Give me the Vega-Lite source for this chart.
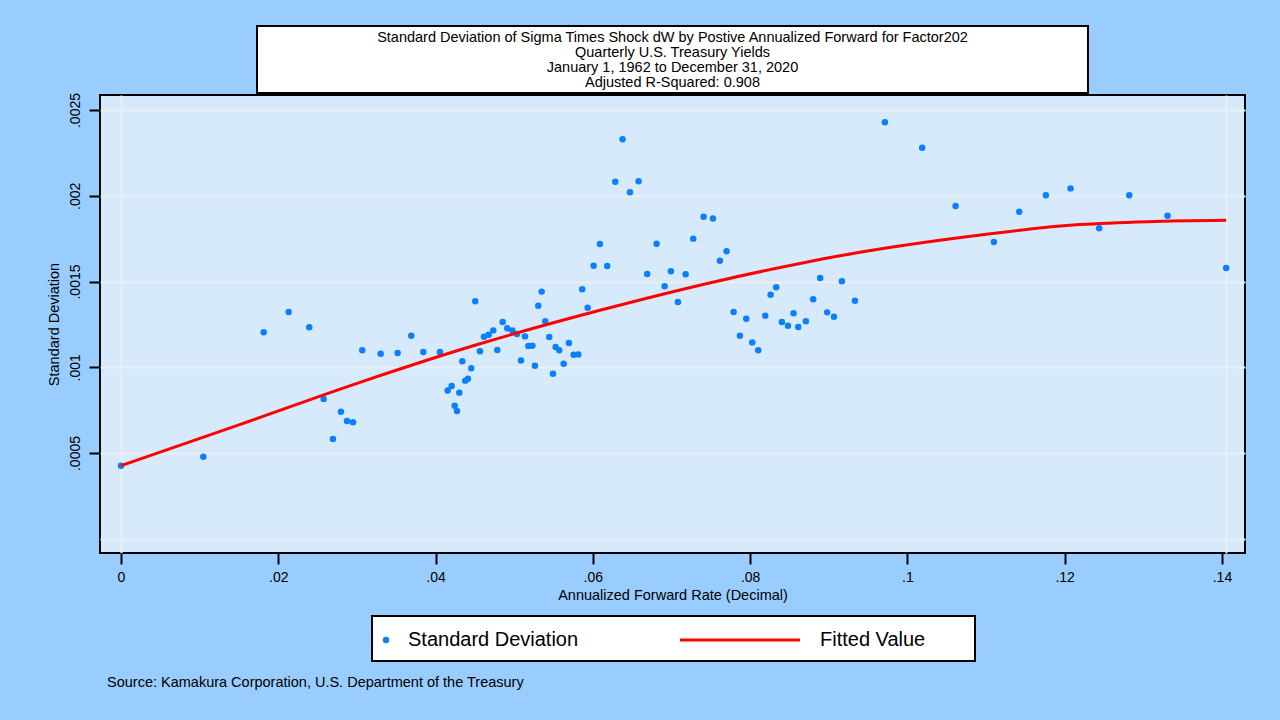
{
  "$schema": "https://vega.github.io/schema/vega-lite/v6.json",
  "background": "#99CCFF",
  "autosize": {"type": "none"},
  "padding": {"left": 100, "top": 26, "right": 1180, "bottom": 694},
  "config": {
    "font": "Liberation Sans",
    "view": {"stroke": null}
  },
  "datasets": {
    "titleLines": [
      {"line": 1, "text": "Standard Deviation of Sigma Times Shock dW by Postive Annualized Forward for Factor202"},
      {"line": 2, "text": "Quarterly U.S. Treasury Yields"},
      {"line": 3, "text": "January 1, 1962 to December 31, 2020"},
      {"line": 4, "text": "Adjusted R-Squared: 0.908"}
    ],
    "sd": [
      {"rate": 0, "sd": 0.000426}, {"rate": 0.01047, "sd": 0.000478}, {"rate": 0.01814, "sd": 0.001204},
      {"rate": 0.02132, "sd": 0.001322}, {"rate": 0.02394, "sd": 0.001233}, {"rate": 0.02577, "sd": 0.000815},
      {"rate": 0.02695, "sd": 0.000582}, {"rate": 0.02797, "sd": 0.000741}, {"rate": 0.02874, "sd": 0.000687},
      {"rate": 0.0295, "sd": 0.000679}, {"rate": 0.03068, "sd": 0.001099}, {"rate": 0.03302, "sd": 0.001079},
      {"rate": 0.03518, "sd": 0.001083}, {"rate": 0.03691, "sd": 0.001184}, {"rate": 0.03844, "sd": 0.001089},
      {"rate": 0.04056, "sd": 0.001089}, {"rate": 0.04154, "sd": 0.000865}, {"rate": 0.04205, "sd": 0.000891},
      {"rate": 0.04243, "sd": 0.000776}, {"rate": 0.04272, "sd": 0.000745}, {"rate": 0.04302, "sd": 0.000852},
      {"rate": 0.0434, "sd": 0.001035}, {"rate": 0.04378, "sd": 0.000922}, {"rate": 0.04412, "sd": 0.000933},
      {"rate": 0.04454, "sd": 0.000994}, {"rate": 0.04505, "sd": 0.001385}, {"rate": 0.04565, "sd": 0.001093},
      {"rate": 0.04616, "sd": 0.001178}, {"rate": 0.04675, "sd": 0.00119}, {"rate": 0.04734, "sd": 0.001215},
      {"rate": 0.04785, "sd": 0.0011}, {"rate": 0.04853, "sd": 0.001264}, {"rate": 0.04912, "sd": 0.001227},
      {"rate": 0.04976, "sd": 0.001215}, {"rate": 0.05036, "sd": 0.001194}, {"rate": 0.05086, "sd": 0.00104},
      {"rate": 0.05137, "sd": 0.00118}, {"rate": 0.0518, "sd": 0.001124}, {"rate": 0.05231, "sd": 0.001126},
      {"rate": 0.05264, "sd": 0.001009}, {"rate": 0.05306, "sd": 0.001359}, {"rate": 0.05349, "sd": 0.001441},
      {"rate": 0.05395, "sd": 0.001268}, {"rate": 0.05446, "sd": 0.001176}, {"rate": 0.05493, "sd": 0.000962},
      {"rate": 0.05527, "sd": 0.001118}, {"rate": 0.05573, "sd": 0.001099}, {"rate": 0.05629, "sd": 0.001021},
      {"rate": 0.05696, "sd": 0.001141}, {"rate": 0.05756, "sd": 0.001073}, {"rate": 0.05815, "sd": 0.001075},
      {"rate": 0.05865, "sd": 0.001455}, {"rate": 0.05934, "sd": 0.001347}, {"rate": 0.0601, "sd": 0.001592},
      {"rate": 0.0609, "sd": 0.001719}, {"rate": 0.06183, "sd": 0.00159}, {"rate": 0.06285, "sd": 0.002082},
      {"rate": 0.06378, "sd": 0.002329}, {"rate": 0.06472, "sd": 0.00202}, {"rate": 0.06582, "sd": 0.002084},
      {"rate": 0.06691, "sd": 0.001544}, {"rate": 0.06811, "sd": 0.00172}, {"rate": 0.06913, "sd": 0.001472},
      {"rate": 0.06993, "sd": 0.00156}, {"rate": 0.07082, "sd": 0.00138}, {"rate": 0.0718, "sd": 0.001542},
      {"rate": 0.07277, "sd": 0.00175}, {"rate": 0.07409, "sd": 0.001878}, {"rate": 0.07527, "sd": 0.001868},
      {"rate": 0.07616, "sd": 0.001621}, {"rate": 0.07701, "sd": 0.001676}, {"rate": 0.0779, "sd": 0.001322},
      {"rate": 0.0787, "sd": 0.001184}, {"rate": 0.07951, "sd": 0.001283}, {"rate": 0.08027, "sd": 0.001145},
      {"rate": 0.08103, "sd": 0.001099}, {"rate": 0.08192, "sd": 0.001301}, {"rate": 0.0826, "sd": 0.001423},
      {"rate": 0.08332, "sd": 0.001466}, {"rate": 0.08404, "sd": 0.001264}, {"rate": 0.08481, "sd": 0.001242},
      {"rate": 0.08553, "sd": 0.001315}, {"rate": 0.08612, "sd": 0.001235}, {"rate": 0.08709, "sd": 0.001268},
      {"rate": 0.08802, "sd": 0.001396}, {"rate": 0.08891, "sd": 0.00152}, {"rate": 0.0898, "sd": 0.00132},
      {"rate": 0.09066, "sd": 0.001295}, {"rate": 0.09167, "sd": 0.001501}, {"rate": 0.09333, "sd": 0.001388},
      {"rate": 0.09714, "sd": 0.002428}, {"rate": 0.10188, "sd": 0.00228}, {"rate": 0.10613, "sd": 0.00194},
      {"rate": 0.111, "sd": 0.00173}, {"rate": 0.11422, "sd": 0.001907}, {"rate": 0.11761, "sd": 0.002003},
      {"rate": 0.12075, "sd": 0.002043}, {"rate": 0.12439, "sd": 0.00181}, {"rate": 0.12821, "sd": 0.002003},
      {"rate": 0.13308, "sd": 0.001884}, {"rate": 0.14054, "sd": 0.001579}
    ],
    "fit": [
      {"rate": 0, "fitted": 0.000426}, {"rate": 0.01555, "fitted": 0.000673}, {"rate": 0.03039, "fitted": 0.000912},
      {"rate": 0.04501, "fitted": 0.001128}, {"rate": 0.0609, "fitted": 0.001332}, {"rate": 0.07553, "fitted": 0.001499},
      {"rate": 0.08634, "fitted": 0.001605}, {"rate": 0.09142, "fitted": 0.00165}, {"rate": 0.10604, "fitted": 0.001752},
      {"rate": 0.12193, "fitted": 0.001832}, {"rate": 0.13058, "fitted": 0.001849}, {"rate": 0.14054, "fitted": 0.001857}
    ]
  },
  "vconcat": [
    {
      "width": 831,
      "height": 67,
      "view": {"fill": "white", "stroke": "black", "strokeWidth": 2},
      "data": {"name": "titleLines"},
      "mark": {"type": "text", "fontSize": 14.5, "color": "black", "align": "center", "baseline": "middle", "dy": 1},
      "encoding": {
        "y": {"field": "line", "type": "ordinal", "scale": {"type": "point", "padding": 0.71}, "axis": null},
        "text": {"field": "text", "type": "nominal"}
      }
    },
    {
      "width": 1145,
      "height": 458,
      "view": {"fill": "#D6EAFC", "stroke": "black", "strokeWidth": 2},
      "title": {
        "text": "Source: Kamakura Corporation, U.S. Department of the Treasury",
        "orient": "bottom", "anchor": "start", "frame": "group", "dx": 7, "offset": 14,
        "fontSize": 14.5, "fontWeight": "normal", "color": "black", "baseline": "top"
      },
      "layer": [
        {
          "data": {"name": "sd"},
          "mark": {"type": "point", "filled": true, "size": 42, "opacity": 1},
          "encoding": {
            "x": {
              "field": "rate", "type": "quantitative",
              "scale": {"domain": [-0.00267, 0.14293], "nice": false, "zero": false},
              "axis": {
                "title": "Annualized Forward Rate (Decimal)",
                "values": [0, 0.02, 0.04, 0.06, 0.08, 0.1, 0.12, 0.14, 0.14054],
                "labelExpr": "datum.value > 0.1401 ? '' : replace(format(datum.value, '.2~f'), '0.', '.')",
                "grid": true, "gridColor": "#EAF0F2", "gridWidth": 2,
                "gridOpacity": {"condition": {"test": "datum.value == 0 || datum.value > 0.1401", "value": 1}, "value": 0},
                "tickOpacity": {"condition": {"test": "datum.value > 0.1401", "value": 0}, "value": 1},
                "domain": false, "tickSize": 11, "tickColor": "black", "tickWidth": 2,
                "labelPadding": 6, "labelFontSize": 14, "labelColor": "black", "labelFlush": false, "labelOverlap": false,
                "titleFontSize": 14.5, "titleFontWeight": "normal", "titleColor": "black", "titlePadding": 4
              }
            },
            "y": {
              "field": "sd", "type": "quantitative",
              "scale": {"domain": [-0.0000831, 0.0025875], "nice": false, "zero": false},
              "axis": {
                "title": "Standard Deviation",
                "values": [0, 0.0005, 0.001, 0.0015, 0.002, 0.0025],
                "labelExpr": "datum.value == 0 ? '' : replace(format(datum.value, '.4~f'), '0.', '.')",
                "labelAngle": 270, "labelAlign": "center", "labelBaseline": "bottom",
                "grid": true, "gridColor": "#EAF0F2", "gridWidth": 2,
                "tickOpacity": {"condition": {"test": "datum.value == 0", "value": 0}, "value": 1},
                "domain": false, "tickSize": 11, "tickColor": "black", "tickWidth": 2,
                "labelPadding": 7, "labelFontSize": 14, "labelColor": "black", "labelFlush": false, "labelOverlap": false,
                "titleFontSize": 14.5, "titleFontWeight": "normal", "titleColor": "black", "titlePadding": 7
              }
            },
            "color": {
              "datum": "Standard Deviation", "type": "nominal",
              "scale": {"domain": ["Standard Deviation", "Fitted Value"], "range": ["#0A80FF", "#FF0000"]},
              "legend": {
                "orient": "none", "legendX": 272, "legendY": 521,
                "direction": "horizontal", "title": " ", "titleOrient": "right", "titlePadding": 39, "titleFontSize": 20,
                "padding": 11, "fillColor": "white", "strokeColor": "black",
                "labelFontSize": 20, "labelColor": "black", "labelLimit": 400,
                "columnPadding": 95,
                "encode": {
                  "legend": {"update": {"strokeWidth": {"value": 2}}},
                  "symbols": {"update": {
                    "shape": {"signal": "datum.value === 'Fitted Value' ? 'stroke' : 'circle'"},
                    "size": {"signal": "datum.value === 'Fitted Value' ? 14400 : 42"},
                    "strokeWidth": {"signal": "datum.value === 'Fitted Value' ? 3 : 0"},
                    "stroke": {"signal": "datum.value === 'Fitted Value' ? '#FF0000' : 'transparent'"},
                    "fill": {"signal": "datum.value === 'Fitted Value' ? 'transparent' : '#0A80FF'"},
                    "opacity": {"value": 1},
                    "x": {"signal": "datum.value === 'Fitted Value' ? 59 : 3"},
                    "y": {"value": 13}
                  }},
                  "labels": {"update": {
                    "x": {"signal": "datum.value === 'Fitted Value' ? 139 : 25"},
                    "y": {"value": 13}
                  }}
                }
              }
            }
          }
        },
        {
          "data": {"name": "fit"},
          "mark": {"type": "line", "strokeWidth": 3, "interpolate": "monotone"},
          "encoding": {
            "x": {"field": "rate", "type": "quantitative"},
            "y": {"field": "fitted", "type": "quantitative"},
            "color": {
              "datum": "Fitted Value", "type": "nominal",
              "legend": {
                "orient": "none", "legendX": 272, "legendY": 521,
                "direction": "horizontal", "title": " ", "titleOrient": "right", "titlePadding": 39, "titleFontSize": 20,
                "padding": 11, "fillColor": "white", "strokeColor": "black",
                "labelFontSize": 20, "labelColor": "black", "labelLimit": 400,
                "columnPadding": 95,
                "encode": {
                  "legend": {"update": {"strokeWidth": {"value": 2}}},
                  "symbols": {"update": {
                    "shape": {"signal": "datum.value === 'Fitted Value' ? 'stroke' : 'circle'"},
                    "size": {"signal": "datum.value === 'Fitted Value' ? 14400 : 42"},
                    "strokeWidth": {"signal": "datum.value === 'Fitted Value' ? 3 : 0"},
                    "stroke": {"signal": "datum.value === 'Fitted Value' ? '#FF0000' : 'transparent'"},
                    "fill": {"signal": "datum.value === 'Fitted Value' ? 'transparent' : '#0A80FF'"},
                    "opacity": {"value": 1},
                    "x": {"signal": "datum.value === 'Fitted Value' ? 59 : 3"},
                    "y": {"value": 13}
                  }},
                  "labels": {"update": {
                    "x": {"signal": "datum.value === 'Fitted Value' ? 139 : 25"},
                    "y": {"value": 13}
                  }}
                }
              }
            }
          }
        }
      ]
    }
  ],
  "spacing": 2,
  "bounds": "flush",
  "center": true,
  "resolve": {"scale": {"color": "independent"}, "legend": {"color": "independent"}}
}
